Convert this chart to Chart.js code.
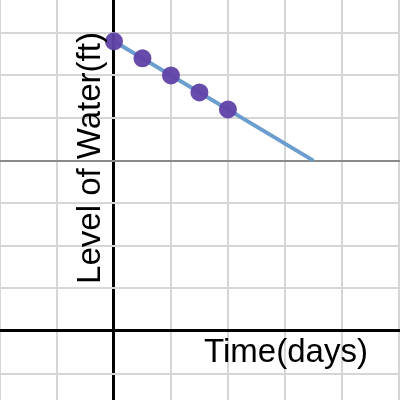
<!DOCTYPE html>
<html>
<head>
<meta charset="utf-8">
<script src="https://cdn.jsdelivr.net/npm/chart.js@4/dist/chart.umd.min.js"></script>
<style>
  body { margin: 0; background: #fff; }
  canvas { display: block; }
</style>
</head>
<body>
<canvas id="waterChart" width="400" height="400"></canvas>
<script>
// Dados
const days = [0, 1, 2, 3, 4];
const waterLevel = [6.8, 6.4, 6.0, 5.6, 5.2];
const trendDays = [0, 7];
const trendLevel = [6.8, 4.0];
const xLabel = 'Time(days)';
const yLabel = 'Level of Water(ft)';
const markLevel = 4;

// Rótulos dos eixos desenhados no canvas
const labelsPlugin = {
    id: 'axisLabels',
    afterDraw(chart) {
        const ctx = chart.ctx;
        ctx.save();
        ctx.fillStyle = '#000';
        ctx.font = '33px "Liberation Sans", Arial, sans-serif';
        ctx.textAlign = 'center';
        ctx.textBaseline = 'alphabetic';
        ctx.fillText(xLabel, 286, 362);
        ctx.translate(100, 158);
        ctx.rotate(-Math.PI / 2);
        ctx.fillText(yLabel, 0, 0);
        ctx.restore();
    }
};

const ctx = document.getElementById('waterChart').getContext('2d');
new Chart(ctx, {
    type: 'scatter',
    data: {
        datasets: [{
            type: 'line',
            data: trendDays.map((d, i) => ({ x: d, y: trendLevel[i] })),
            borderColor: '#6b9dcf',
            borderWidth: 4,
            pointRadius: 0,
            fill: false,
            order: 2
        }, {
            data: days.map((d, i) => ({ x: d, y: waterLevel[i] })),
            backgroundColor: 'rgba(96, 66, 168, 0.95)',
            borderWidth: 0,
            pointRadius: 9,
            order: 1
        }]
    },
    options: {
        responsive: false,
        animation: false,
        layout: { padding: 0, autoPadding: false },
        plugins: {
            legend: { display: false },
            tooltip: { enabled: false }
        },
        scales: {
            x: {
                type: 'linear',
                min: -4,
                max: 10.04,
                border: { display: false },
                ticks: { display: false, stepSize: 2, includeBounds: false },
                grid: {
                    drawTicks: false,
                    tickLength: 0,
                    color: c => c.tick && c.tick.value === 0 ? '#000' : '#d6d6d6',
                    lineWidth: c => c.tick && c.tick.value === 0 ? 3 : 2
                }
            },
            y: {
                type: 'linear',
                min: -1.62,
                max: 7.77,
                border: { display: false },
                ticks: { display: false, stepSize: 1, includeBounds: false },
                grid: {
                    drawTicks: false,
                    tickLength: 0,
                    color: c => {
                        if (!c.tick) return '#d6d6d6';
                        if (c.tick.value === 0) return '#000';
                        if (c.tick.value === markLevel) return '#8a8a8a';
                        return '#d6d6d6';
                    },
                    lineWidth: c => c.tick && c.tick.value === 0 ? 3 : 2
                }
            }
        }
    },
    plugins: [labelsPlugin]
});
</script>
</body>
</html>
